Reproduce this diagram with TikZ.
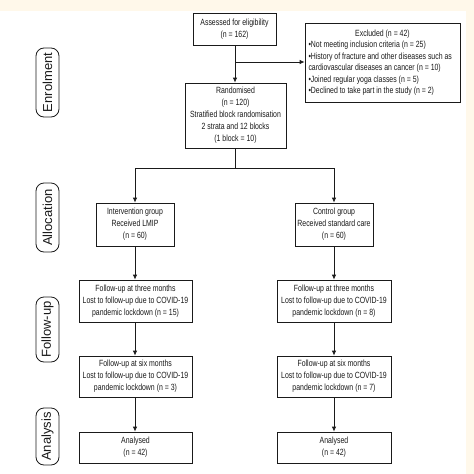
\documentclass[tikz,border=0pt]{standalone}
\usepackage{fontspec}
\setmainfont{Liberation Sans}[FakeStretch=0.77]
\newfontfamily\labelfont{Liberation Sans}
\usetikzlibrary{arrows.meta}
\definecolor{cream}{HTML}{FFF8EA}
\definecolor{ink}{HTML}{1A1A1A}
\tikzset{
  box/.style={draw=ink, line width=0.8pt, align=center, inner sep=1pt,
    font=\fontsize{9}{12}\selectfont, text=ink},
  stage/.style={draw=ink, line width=0.8pt, rounded corners=8pt, rotate=90,
    minimum height=23pt, inner sep=0pt, font=\labelfont\fontsize{13}{14}\selectfont, text=ink},
  conn/.style={draw=ink, line width=0.8pt},
  arr/.style={conn, -{Latex[length=5pt,width=4.5pt]}}
}
\begin{document}
\begin{tikzpicture}[x=1pt,y=-1pt]
\useasboundingbox (0,0) rectangle (474,474);
\fill[white] (0,0) rectangle (474,474);
\fill[cream] (0,0) rectangle (474,11);
\fill[cream] (466,11) rectangle (474,474);

% stage labels
\node[stage, minimum width=69pt] (senr) at (47.5,82.5) {Enrolment};
\node[stage, minimum width=69pt] (sall) at (47.5,217.5) {Allocation};
\node[stage, minimum width=65pt] (sfol) at (47.5,329.5) {Follow-up};
\node[stage, minimum width=57pt] (sana) at (47.5,436.5) {Analysis};

% boxes
\node[box, minimum width=83pt, minimum height=32pt] (assess) at (234.5,29) {Assessed for eligibility\\(n = 162)};
\node[box, minimum width=155pt, minimum height=79pt, align=left, font=\fontsize{9}{11.5}\selectfont] (excl) at (382.5,62.5)
 {\makebox[148pt]{Excluded (n = 42)}\\
  •Not meeting inclusion criteria (n = 25)\\
  •History of fracture and other diseases such as\\
  cardiovascular diseases an cancer (n = 10)\\
  •Joined regular yoga classes (n = 5)\\
  •Declined to take part in the study (n = 2)};
\node[box, minimum width=101pt, minimum height=65pt] (rand) at (235.5,115.5)
 {Randomised\\(n = 120)\\Stratified block randomisation\\2 strata and 12 blocks\\(1 block = 10)};

\node[box, minimum width=78pt, minimum height=43pt] (intv) at (135,224.5) {Intervention group\\Received LMIP\\(n = 60)};
\node[box, minimum width=78pt, minimum height=43pt] (ctrl) at (334,224.5) {Control group\\Received standard care\\(n = 60)};

\node[box, minimum width=113pt, minimum height=42pt] (fu3l) at (135.5,301) {Follow-up at three months\\Lost to follow-up due to COVID-19\\pandemic lockdown (n = 15)};
\node[box, minimum width=114pt, minimum height=42pt] (fu3r) at (334,301) {Follow-up at three months\\Lost to follow-up due to COVID-19\\pandemic lockdown (n = 8)};

\node[box, minimum width=113pt, minimum height=41pt] (fu6l) at (135.5,376.5) {Follow-up at six months\\Lost to follow-up due to COVID-19\\pandemic lockdown (n = 3)};
\node[box, minimum width=114pt, minimum height=41pt] (fu6r) at (334,376.5) {Follow-up at six months\\Lost to follow-up due to COVID-19\\pandemic lockdown (n = 7)};

\node[box, minimum width=113pt, minimum height=31pt] (anal) at (135.5,447.5) {Analysed\\(n = 42)};
\node[box, minimum width=114pt, minimum height=31pt] (anar) at (334,447.5) {Analysed\\(n = 42)};

% connectors
\coordinate (jx) at (235,62);
\coordinate (split) at (235,168);
\draw[arr] (assess.south -| jx) -- (rand.north -| jx);
\draw[arr] (jx) -- (excl.west |- jx);
\draw[conn] (rand.south -| split) -- (split);
\draw[arr] (split) -| (intv.north);
\draw[arr] (split) -| (ctrl.north);
\draw[arr] (intv.south) -- (intv.south |- fu3l.north);
\draw[arr] (ctrl.south) -- (ctrl.south |- fu3r.north);
\draw[arr] (intv.south |- fu3l.south) -- (intv.south |- fu6l.north);
\draw[arr] (ctrl.south |- fu3r.south) -- (ctrl.south |- fu6r.north);
\draw[arr] (intv.south |- fu6l.south) -- (intv.south |- anal.north);
\draw[arr] (ctrl.south |- fu6r.south) -- (ctrl.south |- anar.north);
\end{tikzpicture}
\end{document}
